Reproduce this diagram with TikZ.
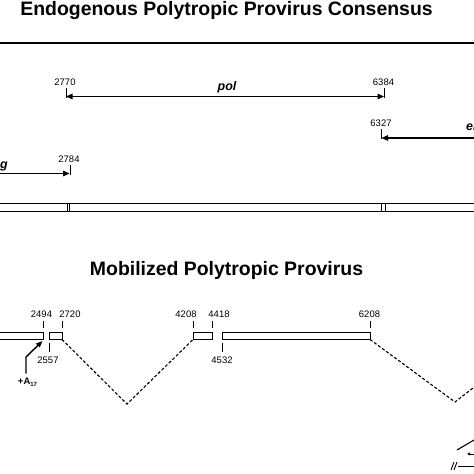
\documentclass[tikz,border=0pt]{standalone}
\usepackage{fontspec}
\setmainfont{Liberation Sans}
\usetikzlibrary{arrows.meta}
\begin{document}
\begin{tikzpicture}[x=1bp,y=-1bp,
  title/.style={font=\fontsize{19.5}{20}\selectfont\bfseries, inner sep=0pt, anchor=base},
  num/.style={font=\fontsize{9.5}{10}\selectfont, inner sep=0pt, anchor=base},
  gene/.style={font=\fontsize{12.5}{13}\selectfont\bfseries\itshape, inner sep=0pt},
  tickline/.style={line width=1bp},
  orf/.style={line width=1.3bp},
  head/.style={-{Triangle[length=6.5bp,width=5.5bp]}},
  exon/.style={draw, line width=0.9bp},
  splice/.style={line width=1.1bp, dash pattern=on 3bp off 2bp},
  bar/.style={line width=1bp},
  ]
\useasboundingbox (0,0) rectangle (474,474);

% ---------- Endogenous consensus ----------
\node[title] (t1) at (226.5,15.5) {Endogenous Polytropic Provirus Consensus};
\coordinate (r1) at (-2,43); \coordinate (r2) at (476,43);
\draw[line width=1.5bp] (r1) -- (r2);

% pol
\node[num] (n2770) at (65,86) {2770};
\node[num] (n6384) at (383.5,86) {6384};
\node[gene, anchor=base] (pol) at (227,90.5) {pol};
\coordinate (pLt) at (66,88); \coordinate (pLb) at (66,98);
\coordinate (pRt) at (384,88); \coordinate (pRb) at (384,98);
\coordinate (pL) at (66,96.5); \coordinate (pR) at (384,96.5);
\draw[tickline] (pLt) -- (pLb);
\draw[tickline] (pRt) -- (pRb);
\draw[orf, {Triangle[length=6.5bp,width=5.5bp]}-{Triangle[length=6.5bp,width=5.5bp]}] (pL) -- (pR);

% env
\node[num] (n6327) at (381,127) {6327};
\node[gene, anchor=base west] (env) at (466,131) {env};
\coordinate (eTt) at (381,129); \coordinate (eTb) at (381,139.5);
\coordinate (eA) at (480,138); \coordinate (eB) at (381.5,138);
\draw[tickline] (eTt) -- (eTb);
\draw[orf, head] (eA) -- (eB);

% gag
\node[gene, anchor=base east] (gag) at (8,168.5) {gag};
\node[num] (n2784) at (69,163) {2784};
\coordinate (gTt) at (70,165); \coordinate (gTb) at (70,175.5);
\coordinate (gA) at (-5,173.5); \coordinate (gB) at (69.5,173.5);
\draw[tickline] (gTt) -- (gTb);
\draw[orf, head] (gA) -- (gB);

% genome bar
\coordinate (b1) at (-2,204); \coordinate (b2) at (476,204);
\coordinate (b3) at (-2,211.5); \coordinate (b4) at (476,211.5);
\draw[bar] (b1) -- (b2);
\draw[bar] (b3) -- (b4);
\foreach \x in {67.4,69.6,381.2,385.2}{
  \coordinate (s1) at (\x,204); \coordinate (s2) at (\x,211.5);
  \draw[bar] (s1) -- (s2);
}

% ---------- Mobilized provirus ----------
\node[title] (t2) at (226.5,275) {Mobilized Polytropic Provirus};

\coordinate (x1a) at (-2,332.5); \coordinate (x1b) at (43,339.5);
\coordinate (x2a) at (49,332.5); \coordinate (x2b) at (62,339.5);
\coordinate (x3a) at (193,332.5); \coordinate (x3b) at (212,339.5);
\coordinate (x4a) at (222,332.5); \coordinate (x4b) at (370,339.5);
\draw[exon] (x1a) rectangle (x1b);
\draw[exon] (x2a) rectangle (x2b);
\draw[exon] (x3a) rectangle (x3b);
\draw[exon] (x4a) rectangle (x4b);

% labels above
\node[num] (m2494) at (41.5,317.5) {2494};
\node[num] (m2720) at (70,317.5) {2720};
\node[num] (m4208) at (186,317.5) {4208};
\node[num] (m4418) at (219,317.5) {4418};
\node[num] (m6208) at (369.5,317.5) {6208};
\foreach \x in {43,62,193.5,212,370}{
  \coordinate (u1) at (\x,321); \coordinate (u2) at (\x,328);
  \draw[tickline] (u1) -- (u2);
}
% labels below
\node[num] (m2557) at (48,363) {2557};
\node[num] (m4532) at (222,363) {4532};
\foreach \x in {49,222}{
  \coordinate (d1) at (\x,343); \coordinate (d2) at (\x,352);
  \draw[tickline] (d1) -- (d2);
}

% poly-A insertion
\node[font=\fontsize{9.5}{10}\selectfont\bfseries, inner sep=0pt, anchor=base] (polyA) at (27.5,384.5) {+A\raisebox{-1.8bp}{\fontsize{6}{6}\selectfont 17}};
\coordinate (aS) at (26,373.5); \coordinate (aK) at (26,357); \coordinate (aE) at (42.5,341);
\draw[line width=1.4bp, -{Triangle[length=6.5bp,width=5bp]}] (aS) -- (aK) -- (aE);

% splices
\coordinate (v1) at (127,404);
\draw[splice] (x2b) -- (v1) -- (193,339.5);
\coordinate (v2) at (455,402); \coordinate (v2e) at (482,381);
\draw[splice] (x4b) -- (v2) -- (v2e);

% partial element at bottom right
\coordinate (c1) at (457,450); \coordinate (c2) at (480,436.5);
\draw[line width=1.1bp] (c1) -- (c2);
\coordinate (k1) at (476,454); \coordinate (k2) at (467,454);
\draw[line width=0.9bp, -{Triangle[length=3bp,width=2.8bp]}] (k1) -- (k2);
\coordinate (h1) at (458,466); \coordinate (h2) at (476,466);
\draw[line width=1bp] (h1) -- (h2);
\coordinate (q1) at (451,470); \coordinate (q2) at (454,462);
\coordinate (q3) at (454,470); \coordinate (q4) at (457,462);
\draw[line width=0.9bp] (q1) -- (q2);
\draw[line width=0.9bp] (q3) -- (q4);
\end{tikzpicture}
\end{document}
